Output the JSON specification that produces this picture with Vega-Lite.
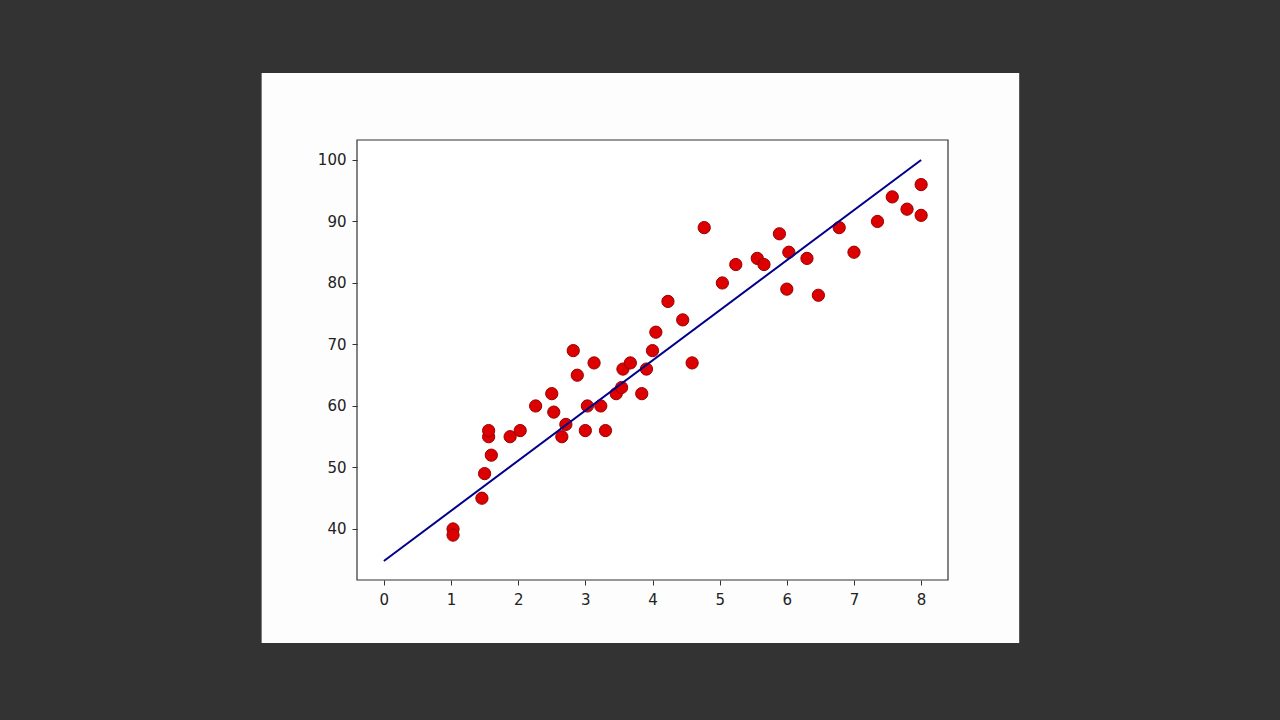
{
  "$schema": "https://vega.github.io/schema/vega-lite/v6.json",
  "width": 591,
  "height": 440,
  "autosize": {"type": "none"},
  "padding": {"left": 357, "top": 140, "right": 332, "bottom": 140},
  "background": "#333333",
  "config": {
    "view": {"stroke": null, "fill": null},
    "axis": {
      "grid": false,
      "domain": false,
      "ticks": true,
      "tickColor": "#333333",
      "tickSize": 5,
      "labelFont": "DejaVu Sans",
      "labelFontSize": 15,
      "labelColor": "#222222",
      "title": null
    }
  },
  "datasets": {
    "points": [
      {"x": 1.03, "y": 40}, {"x": 1.03, "y": 39}, {"x": 1.46, "y": 45},
      {"x": 1.5, "y": 49}, {"x": 1.56, "y": 55}, {"x": 1.56, "y": 56},
      {"x": 1.6, "y": 52}, {"x": 1.88, "y": 55}, {"x": 2.03, "y": 56},
      {"x": 2.26, "y": 60}, {"x": 2.5, "y": 62}, {"x": 2.53, "y": 59},
      {"x": 2.65, "y": 55}, {"x": 2.71, "y": 57}, {"x": 2.82, "y": 69},
      {"x": 2.88, "y": 65}, {"x": 3.0, "y": 56}, {"x": 3.03, "y": 60},
      {"x": 3.13, "y": 67}, {"x": 3.23, "y": 60}, {"x": 3.3, "y": 56},
      {"x": 3.46, "y": 62}, {"x": 3.54, "y": 63}, {"x": 3.56, "y": 66},
      {"x": 3.67, "y": 67}, {"x": 3.84, "y": 62}, {"x": 3.91, "y": 66},
      {"x": 4.0, "y": 69}, {"x": 4.05, "y": 72}, {"x": 4.23, "y": 77},
      {"x": 4.45, "y": 74}, {"x": 4.59, "y": 67}, {"x": 4.77, "y": 89},
      {"x": 5.04, "y": 80}, {"x": 5.24, "y": 83}, {"x": 5.56, "y": 84},
      {"x": 5.66, "y": 83}, {"x": 5.89, "y": 88}, {"x": 6.0, "y": 79},
      {"x": 6.03, "y": 85}, {"x": 6.3, "y": 84}, {"x": 6.47, "y": 78},
      {"x": 6.78, "y": 89}, {"x": 7.0, "y": 85}, {"x": 7.35, "y": 90},
      {"x": 7.57, "y": 94}, {"x": 7.79, "y": 92}, {"x": 8.0, "y": 96},
      {"x": 8.0, "y": 91}
    ],
    "fit": [
      {"x": 0, "y": 34.8},
      {"x": 8, "y": 100}
    ]
  },
  "layer": [
    {
      "data": {"values": [{}]},
      "mark": {"type": "rect", "fill": "#fdfdfd", "clip": false},
      "encoding": {
        "x": {"datum": -1.82, "type": "quantitative", "scale": {"domain": [-0.4, 8.4], "nice": false, "zero": false}, "axis": {"values": [0, 1, 2, 3, 4, 5, 6, 7, 8], "format": "d", "labelPadding": 7, "zindex": 2}},
        "x2": {"datum": 9.46},
        "y": {"datum": 114.15, "type": "quantitative", "scale": {"domain": [31.7, 103.25], "nice": false, "zero": false}, "axis": {"values": [40, 50, 60, 70, 80, 90, 100], "format": "d", "labelPadding": 6, "zindex": 2}},
        "y2": {"datum": 21.46}
      }
    },
    {
      "data": {"values": [{}]},
      "mark": {"type": "rect", "fill": "white", "stroke": "#333333", "strokeWidth": 1.2, "clip": false},
      "encoding": {
        "x": {"datum": -0.4, "type": "quantitative"},
        "x2": {"datum": 8.4},
        "y": {"datum": 103.25, "type": "quantitative"},
        "y2": {"datum": 31.7}
      }
    },
    {
      "data": {"name": "points"},
      "mark": {"type": "circle", "size": 150, "color": "#dd0000", "stroke": "#990000", "strokeWidth": 1, "opacity": 1},
      "encoding": {
        "x": {"field": "x", "type": "quantitative"},
        "y": {"field": "y", "type": "quantitative"}
      }
    },
    {
      "data": {"name": "fit"},
      "mark": {"type": "line", "color": "#00008b", "strokeWidth": 2},
      "encoding": {
        "x": {"field": "x", "type": "quantitative"},
        "y": {"field": "y", "type": "quantitative"}
      }
    }
  ]
}
